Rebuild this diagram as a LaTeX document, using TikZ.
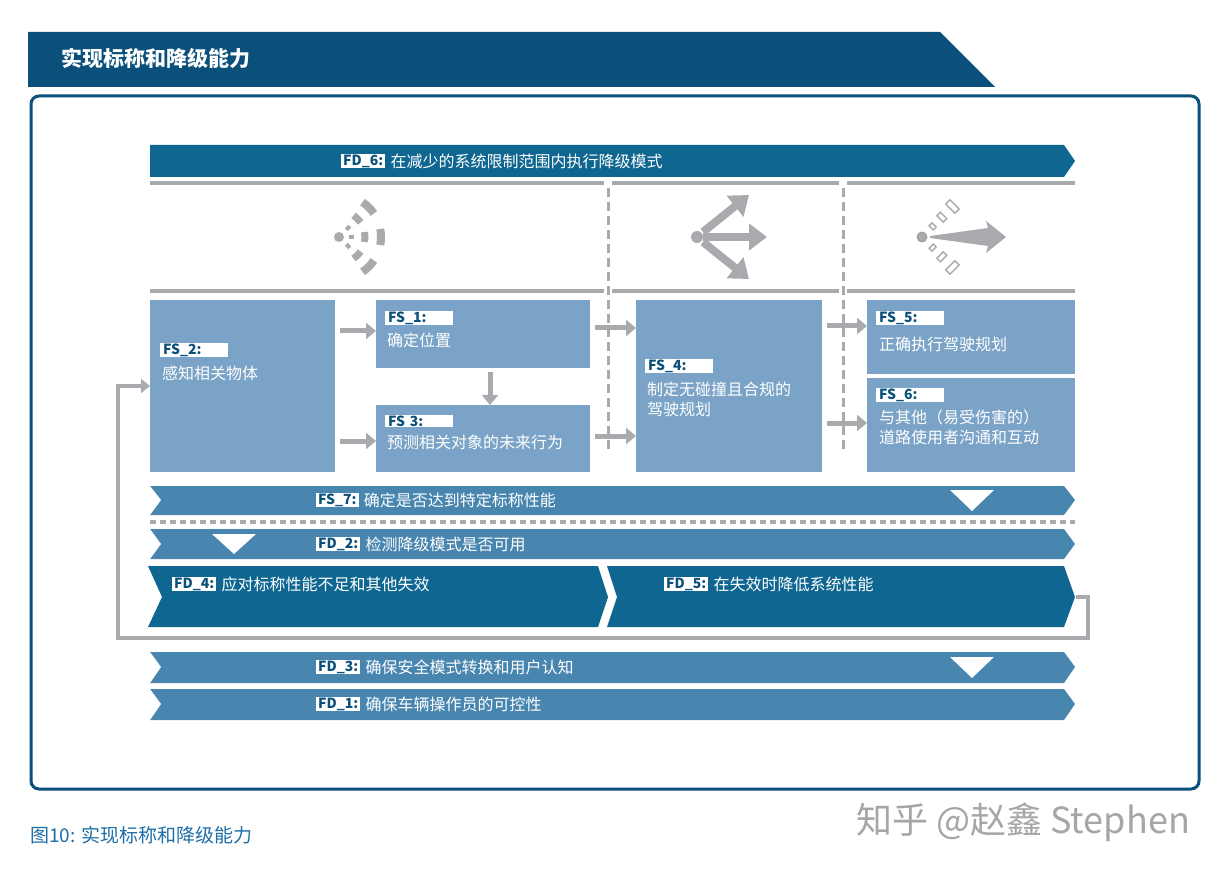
\documentclass[tikz,border=0pt]{standalone}
\usepackage{fontspec}
\setmainfont{Noto Sans CJK SC}
\usetikzlibrary{arrows.meta}
\definecolor{dkb}{RGB}{10,80,122}
\definecolor{midb}{RGB}{15,102,145}
\definecolor{ltb}{RGB}{72,134,176}
\definecolor{boxb}{RGB}{122,163,199}
\definecolor{gr}{RGB}{168,170,173}
\definecolor{capb}{RGB}{30,110,168}
\tikzset{
  lab/.style={fill=white,text=dkb,font=\fontsize{14}{14}\selectfont\bfseries,inner xsep=2pt,inner ysep=1pt,anchor=west},
  bartxt/.style={text=white,font=\fontsize{16}{16}\selectfont,anchor=west,inner sep=0pt},
  fsbox/.style={fill=boxb,anchor=north west,inner sep=0pt},
  fslab/.style={fill=white,text=dkb,font=\fontsize{14}{14}\selectfont\bfseries,anchor=west,minimum width=68,inner xsep=3pt,inner ysep=1pt,text width=62},
  fstxt/.style={text=white,font=\fontsize{16}{20}\selectfont,anchor=north west,inner sep=0pt,align=left},
  garrow/.style={gr,line width=5,-{Triangle[width=16,length=10]}},
  notch/.style={fill=white},
}
\begin{document}
\begin{tikzpicture}[x=1pt,y=-1pt]
\useasboundingbox (0,0) rectangle (1226,874);
\fill[white] (0,0) rectangle (1226,874);
% title
\fill[dkb] (28,32)--(940,32)--(995,87)--(28,87)--cycle;
\node[text=white,font=\fontsize{21}{21}\selectfont\bfseries,anchor=west] (title) at (58,58) {实现标称和降级能力};
% frame
\draw[dkb,line width=3,rounded corners=8] (31,96) rectangle (1199,789);
% FD_6
\fill[midb] (150,145)--(1064,145)--(1075,161)--(1064,177)--(150,177)--cycle;
\node[lab] (l6) at (341,161) {FD\_6:};
\node[bartxt] (t6) at ([xshift=5]l6.east) {在减少的系统限制范围内执行降级模式};
% gray lines
\fill[gr] (150,181) rectangle (604,185); \fill[gr] (612,181) rectangle (839,185); \fill[gr] (847,181) rectangle (1075,185);
\fill[gr] (150,289) rectangle (604,293); \fill[gr] (612,289) rectangle (839,293); \fill[gr] (847,289) rectangle (1075,293);
\draw[gr,line width=3,dash pattern=on 9pt off 5pt] (608,188)--(608,452);
\draw[gr,line width=3,dash pattern=on 9pt off 5pt] (843,188)--(843,452);
% icon 1
\fill[gr] (339,237) circle (5);
\foreach \a in {-45,0,45}{
  \foreach \r/\w/\h in {13/5/9,26/7/11,42/8/11}{
    \draw[gr,line width=\w] ([shift={(\a-\h:\r)}]339,237) arc[start angle=\a-\h,end angle=\a+\h,radius=\r];
  }}
% icon 2
\fill[gr] (697,237) circle (6);
\draw[gr,line width=8,-{Triangle[width=26,length=18]}] (703,237)--(767,237);
\draw[gr,line width=8,-{Triangle[width=26,length=18]}] (703,232)--(749,195);
\draw[gr,line width=8,-{Triangle[width=26,length=18]}] (703,242)--(749,279);
% icon 3
\fill[gr] (922,237) circle (5);
\draw[gray!80,line width=0.8] (922,237) circle (5);
\fill[gr] (930,236)--(988,228)--(986,221)--(1006,237)--(986,253)--(988,246)--(930,238)--cycle;
\foreach \s in {1,-1}{
  \foreach \r/\w/\h in {15/6/4,28/9/5,43/13/6}{
    \draw[gr,line width=1.4,rotate around={\s*(-45):(922,237)}] ([shift={(\r,0)}]922,237) ++(-\h/2,-\w/2) rectangle ++(\h,\w);
  }}
% FS boxes
\node[fsbox,minimum width=185,minimum height=172] (fs2) at (150,300) {};
\node[fslab] (fs2l) at (160,350) {FS\_2:};
\node[fstxt] (fs2t) at (162,366) {感知相关物体};
\node[fsbox,minimum width=214,minimum height=68] (fs1) at (376,300) {};
\node[fslab] (fs1l) at (385,318) {FS\_1:};
\node[fstxt] (fs1t) at (387,333) {确定位置};
\node[fsbox,minimum width=214,minimum height=67] (fs3) at (376,405) {};
\node[fslab] (fs3l) at (385,421) {FS 3:};
\node[fstxt] (fs3t) at (387,435) {预测相关对象的未来行为};
\node[fsbox,minimum width=186,minimum height=172] (fs4) at (636,300) {};
\node[fslab] (fs4l) at (645,366) {FS\_4:};
\node[fstxt] (fs4t) at (647,382) {制定无碰撞且合规的\\驾驶规划};
\node[fsbox,minimum width=208,minimum height=74] (fs5) at (867,300) {};
\node[fslab] (fs5l) at (876,318) {FS\_5:};
\node[fstxt] (fs5t) at (879,337) {正确执行驾驶规划};
\node[fsbox,minimum width=208,minimum height=94] (fs6) at (867,378) {};
\node[fslab] (fs6l) at (876,395) {FS\_6:};
\node[fstxt] (fs6t) at (879,410) {与其他（易受伤害的）\\道路使用者沟通和互动};
% arrows
\draw[garrow] ([xshift=5]fs2.east |- 0,331)--(fs1.west |- 0,331);
\draw[garrow] ([xshift=5]fs2.east |- 0,441)--(fs3.west |- 0,441);
\draw[garrow] ([yshift=-4]fs1.south -| 490,0)--(fs3.north -| 490,0);
\draw[garrow] ([xshift=5]fs1.east |- 0,328)--(fs4.west |- 0,328);
\draw[garrow] ([xshift=5]fs3.east |- 0,436)--(fs4.west |- 0,436);
\draw[garrow] ([xshift=5]fs4.east |- 0,326)--(fs5.west |- 0,326);
\draw[garrow] ([xshift=5]fs4.east |- 0,423)--(fs6.west |- 0,423);
% FS_7
\fill[ltb] (150,486)--(1064,486)--(1075,500)--(1064,515)--(150,515)--cycle;
\fill[notch] (150,486)--(161,500)--(150,515)--cycle;
\fill[white] (950,490)--(994,490)--(972,511)--cycle;
\node[lab] (l7) at (316,500) {FS\_7:};
\node[bartxt] (t7) at ([xshift=5]l7.east) {确定是否达到特定标称性能};
\draw[gr,line width=4,dash pattern=on 6pt off 4pt] (150,522)--(1075,522);
% FD_2
\fill[ltb] (150,529)--(1064,529)--(1075,544)--(1064,559)--(150,559)--cycle;
\fill[notch] (150,529)--(161,544)--(150,559)--cycle;
\fill[white] (212,534)--(256,534)--(234,554)--cycle;
\node[lab] (l2) at (316,544) {FD\_2:};
\node[bartxt] (t2) at ([xshift=5]l2.east) {检测降级模式是否可用};
% FD_4 FD_5
\fill[midb] (148,566)--(598,566)--(608,597)--(598,627)--(148,627)--(162,597)--cycle;
\fill[midb] (607,566)--(1064,566)--(1075,597)--(1064,627)--(607,627)--(617,597)--cycle;
\node[lab] (l4) at (172,584) {FD\_4:};
\node[bartxt] (t4) at ([xshift=5]l4.east) {应对标称性能不足和其他失效};
\node[lab] (l5) at (664,584) {FD\_5:};
\node[bartxt] (t5) at ([xshift=5]l5.east) {在失效时降低系统性能};
% loop
\coordinate (lp0) at (1076,597);
\draw[gr,line width=4,-{Triangle[width=14,length=9]}] (lp0)--(1088,597)--(1088,638)--(118,638)--(118,386)--(fs2.west |- 0,386);
% FD_3
\fill[ltb] (150,652)--(1064,652)--(1075,667)--(1064,683)--(150,683)--cycle;
\fill[notch] (150,652)--(161,667)--(150,683)--cycle;
\fill[white] (950,657)--(994,657)--(972,678)--cycle;
\node[lab] (l3) at (316,667) {FD\_3:};
\node[bartxt] (t3) at ([xshift=5]l3.east) {确保安全模式转换和用户认知};
% FD_1
\fill[ltb] (150,689)--(1064,689)--(1075,704)--(1064,720)--(150,720)--cycle;
\fill[notch] (150,689)--(161,704)--(150,720)--cycle;
\node[lab] (l1) at (316,704) {FD\_1:};
\node[bartxt] (t1) at ([xshift=5]l1.east) {确保车辆操作员的可控性};
% caption
\node[text=capb,font=\fontsize{19}{19}\selectfont,anchor=west,inner sep=0pt] (cap) at (30,835) {图10: \textit{实现标称和降级能力}};
\node[text=gray!70,font=\fontsize{36}{36}\selectfont,anchor=west,inner sep=0pt] (wm) at (856,822) {知乎 @赵鑫 Stephen};
\end{tikzpicture}
\end{document}
